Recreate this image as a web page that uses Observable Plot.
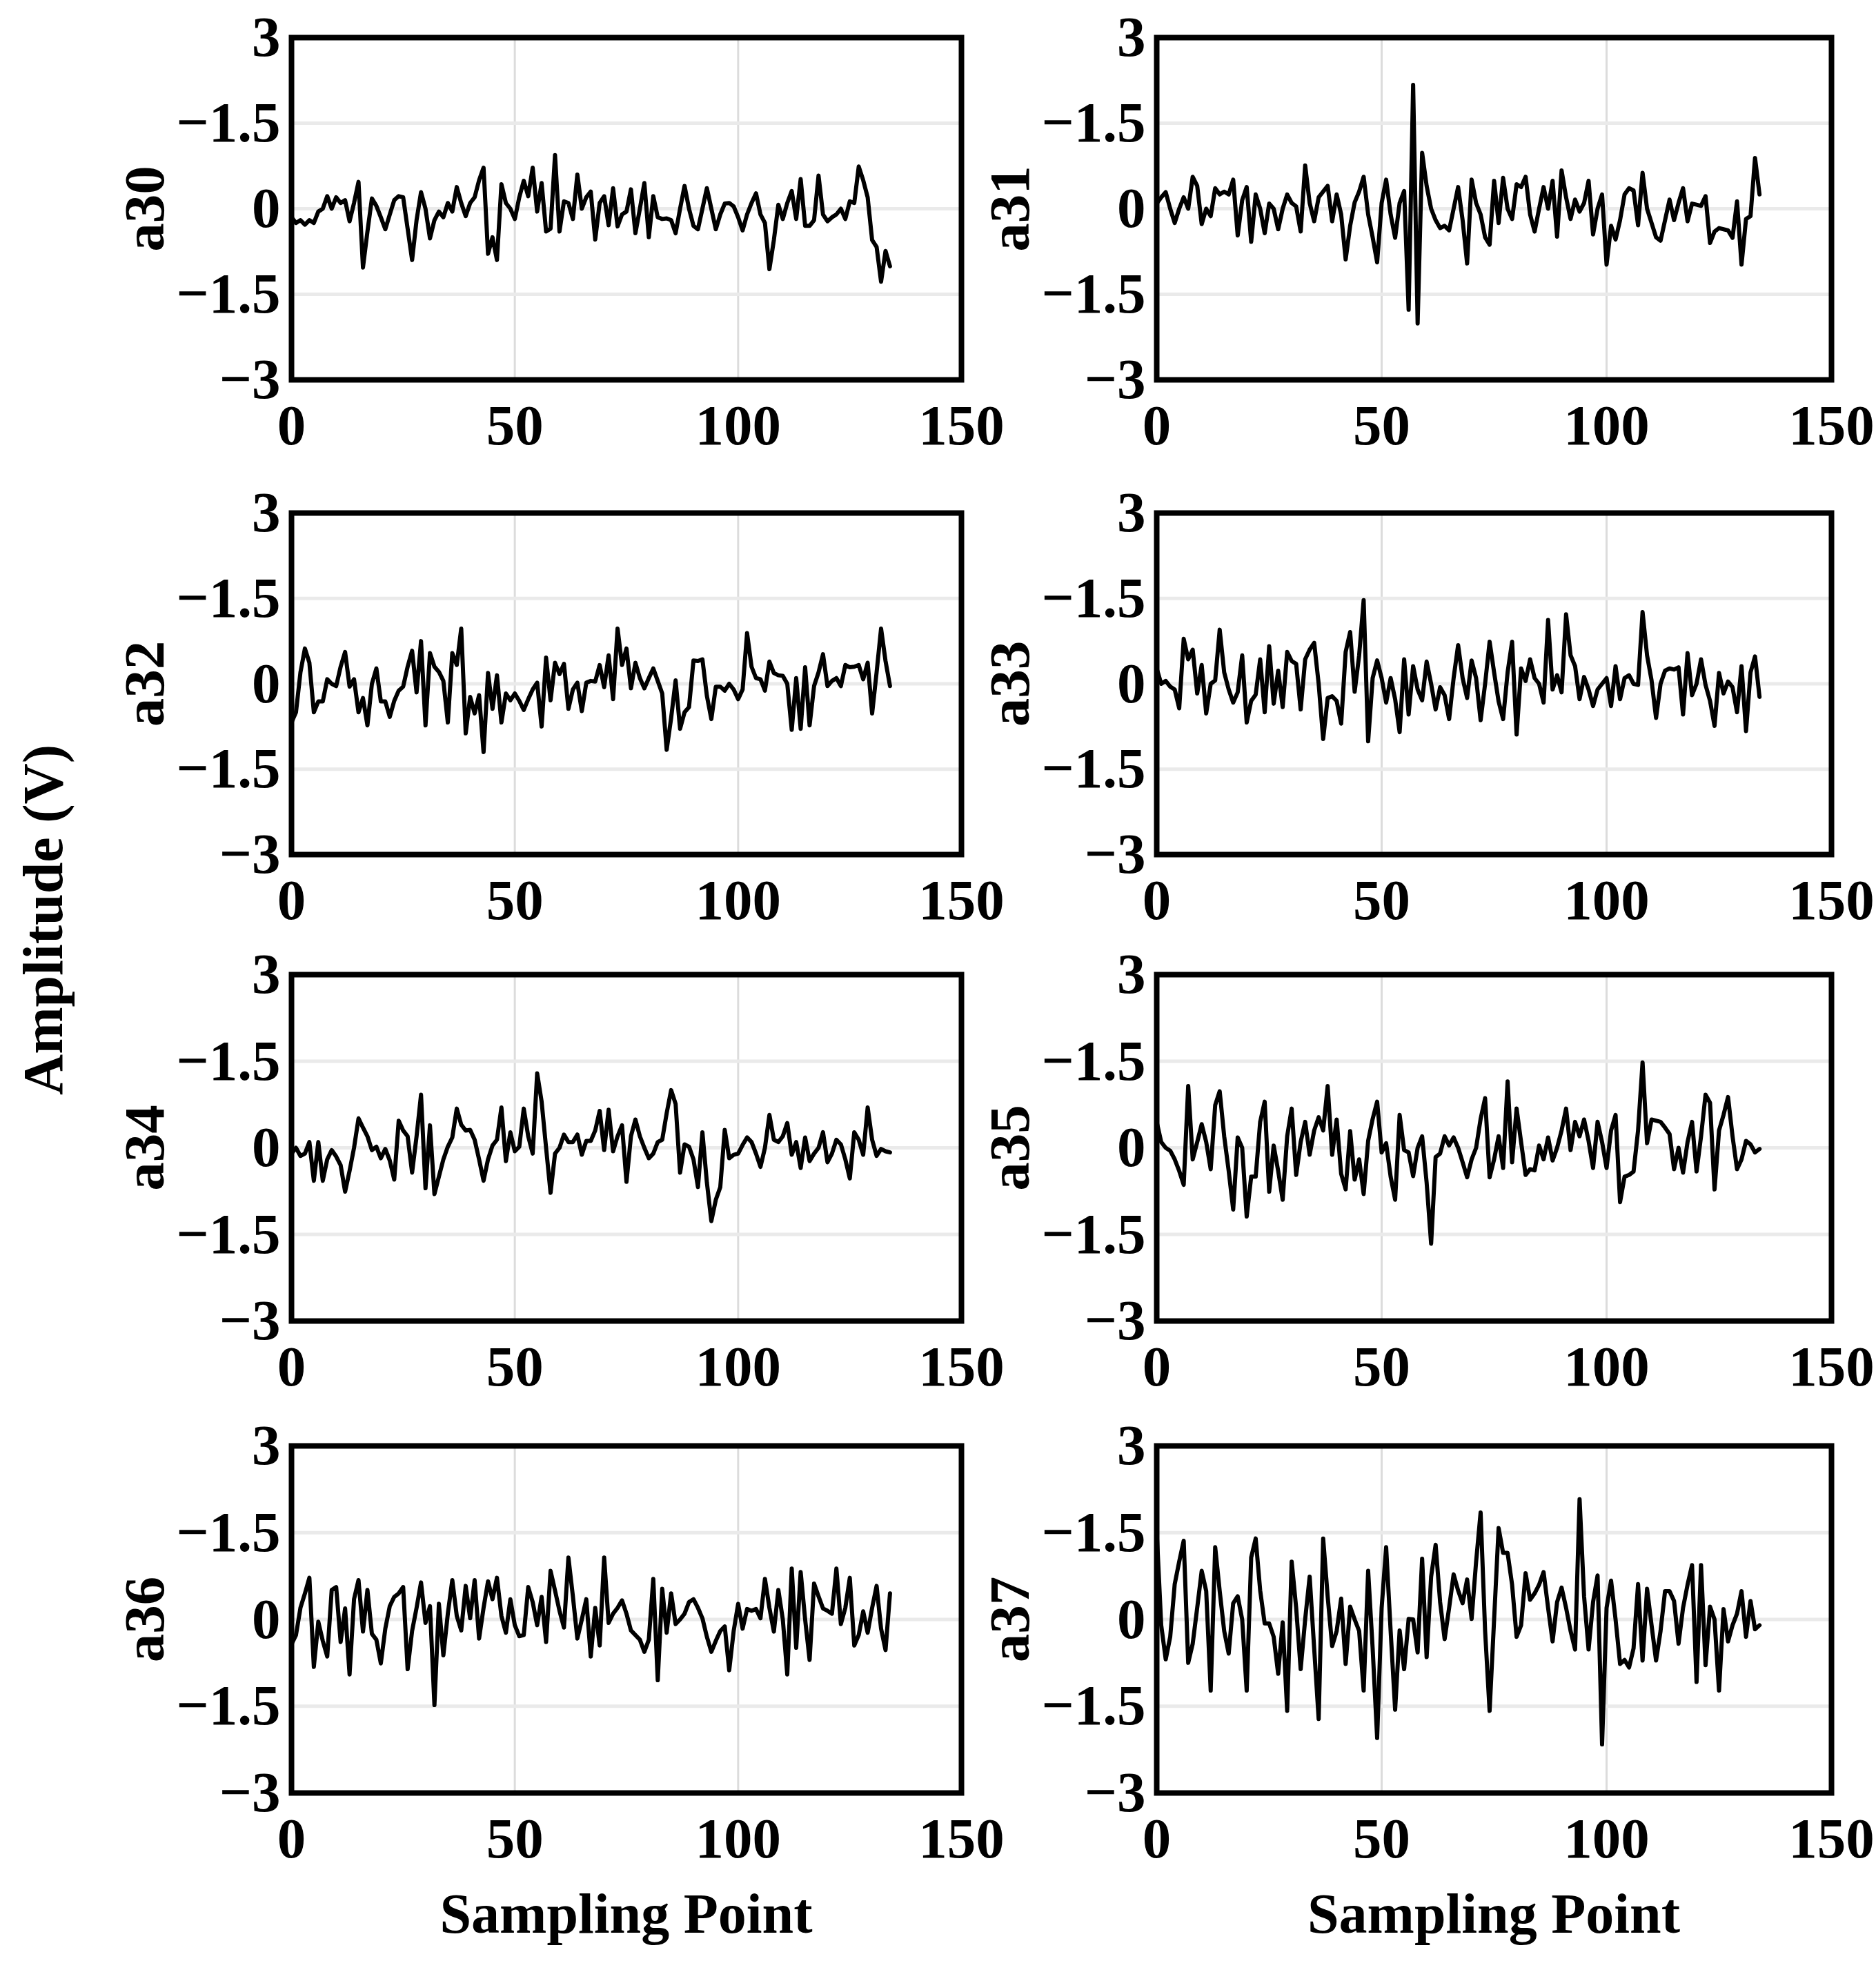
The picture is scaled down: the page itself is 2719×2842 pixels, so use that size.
<!DOCTYPE html>
<html><head><meta charset="utf-8">
<script src="https://cdn.jsdelivr.net/npm/d3@7"></script>
<script src="https://cdn.jsdelivr.net/npm/@observablehq/plot@0.6"></script>
<style>
body{margin:0;background:#fff;}
#root{position:relative;width:2719px;height:2842px;background:#fff;font-family:'Liberation Serif','Times New Roman',serif;font-weight:bold;overflow:hidden;}
.cell{position:absolute;}
.title{position:absolute;font-size:82px;font-weight:bold;white-space:nowrap;color:#000;line-height:1;}
</style></head><body><div id="root"></div>
<script>
const panelNames = ["a30","a31","a32","a33","a34","a35","a36","a37"];

const a30 = [-0.15,-0.25,-0.2,-0.28,-0.2,-0.25,-0.05,0.0,0.22,0.0,0.2,0.1,0.15,-0.22,0.1,0.47,-1.03,-0.4,0.18,0.05,
-0.15,-0.36,-0.1,0.15,0.22,0.2,-0.35,-0.9,-0.2,0.29,0.0,-0.52,-0.2,-0.05,-0.15,0.1,-0.05,0.38,0.1,-0.13,
0.1,0.2,0.5,0.72,-0.79,-0.5,-0.9,0.43,0.1,0.0,-0.18,0.2,0.49,0.22,0.72,-0.05,0.45,-0.4,-0.35,0.94,
-0.4,0.13,0.1,-0.18,0.6,0.0,0.2,0.3,-0.54,0.1,0.22,-0.29,0.36,-0.31,-0.1,-0.05,0.34,-0.43,0.0,0.45,
-0.5,0.22,-0.15,-0.18,-0.17,-0.2,-0.43,0.0,0.4,0.0,-0.3,-0.36,0.0,0.36,0.0,-0.36,-0.1,0.09,0.1,0.04,
-0.15,-0.38,-0.1,0.1,0.27,-0.1,-0.25,-1.06,-0.55,0.07,-0.18,0.1,0.31,-0.18,0.52,-0.3,-0.3,-0.2,0.58,-0.1,
-0.22,-0.15,-0.1,0.0,-0.18,0.13,0.1,0.74,0.5,0.2,-0.55,-0.67,-1.28,-0.74,-1.01];

const a31 = [0.09,0.2,0.29,0.0,-0.25,0.0,0.2,0.0,0.56,0.4,-0.27,0.0,-0.13,0.36,0.25,0.3,0.25,0.51,-0.47,0.15,
0.38,-0.58,0.25,0.0,-0.43,0.09,0.0,-0.36,0.0,0.25,0.1,0.04,-0.4,0.76,0.1,-0.22,0.2,0.3,0.4,-0.22,
0.25,-0.1,-0.89,-0.3,0.11,0.3,0.56,-0.1,-0.5,-0.94,0.1,0.51,-0.1,-0.51,0.1,0.31,-1.77,2.17,-2.01,0.98,
0.4,0.0,-0.2,-0.34,-0.3,-0.38,0.0,0.38,-0.2,-0.96,0.51,0.1,-0.1,-0.5,-0.63,0.49,-0.25,0.54,0.0,-0.18,
0.43,0.38,0.56,-0.1,-0.4,0.0,0.38,0.0,0.49,-0.49,0.67,0.2,-0.18,0.16,-0.05,0.1,0.49,-0.45,0.0,0.25,
-0.98,-0.3,-0.54,-0.2,0.25,0.36,0.32,-0.29,0.63,0.0,-0.25,-0.5,-0.56,-0.2,0.16,-0.2,0.1,0.36,-0.22,0.09,
0.07,0.05,0.22,-0.6,-0.4,-0.34,-0.36,-0.38,-0.51,0.13,-0.98,-0.18,-0.13,0.89,0.25];

const a32 = [-0.68,-0.5,0.2,0.62,0.37,-0.5,-0.31,-0.31,0.08,0.0,-0.04,0.3,0.56,-0.05,0.08,-0.5,-0.25,-0.73,0.0,0.27,
-0.31,-0.31,-0.58,-0.3,-0.12,-0.05,0.3,0.58,-0.15,0.75,-0.73,0.54,0.3,0.21,0.05,-0.68,0.54,0.33,0.97,-0.87,
-0.23,-0.52,-0.2,-1.2,0.19,-0.44,0.15,-0.68,-0.17,-0.29,-0.17,-0.3,-0.46,-0.27,-0.1,0.02,-0.75,0.46,-0.29,0.37,
0.17,0.35,-0.44,-0.1,0.02,-0.48,0.02,0.05,0.04,0.33,-0.06,0.5,-0.27,0.97,0.33,0.62,-0.08,0.37,0.1,-0.08,
0.1,0.27,0.05,-0.17,-1.16,-0.6,0.06,-0.79,-0.5,-0.41,0.41,0.4,0.43,-0.21,-0.62,-0.05,-0.05,-0.12,0.0,-0.1,
-0.27,-0.1,0.89,0.3,0.1,0.08,-0.12,0.39,0.19,0.15,0.14,0.0,-0.81,0.1,-0.79,0.29,-0.73,-0.04,0.2,0.52,
-0.04,0.05,0.1,-0.04,0.33,0.29,0.3,0.33,0.08,0.37,-0.52,0.2,0.97,0.4,-0.04];

const a33 = [0.27,0.0,0.05,-0.05,-0.1,-0.43,0.79,0.43,0.6,-0.17,0.33,-0.52,0.0,0.06,0.95,0.2,-0.1,-0.33,-0.15,0.5,
-0.68,-0.3,-0.19,0.43,-0.5,0.66,-0.35,0.23,-0.41,0.56,0.4,0.35,-0.45,0.43,0.6,0.72,0.0,-0.97,-0.25,-0.22,
-0.3,-0.7,0.56,0.91,-0.14,0.5,1.47,-1.01,0.1,0.41,0.1,-0.33,0.1,-0.27,-0.85,0.43,-0.54,0.31,-0.1,-0.29,
0.39,0.0,-0.45,-0.06,-0.2,-0.62,0.1,0.68,0.1,-0.25,0.41,0.1,-0.64,0.0,0.74,0.2,-0.31,-0.62,0.2,0.74,
-0.89,0.27,0.05,0.43,0.1,0.0,-0.33,1.12,-0.1,0.15,-0.15,1.22,0.5,0.31,-0.27,0.12,-0.1,-0.39,-0.1,0.0,
0.1,-0.39,0.31,-0.27,0.1,0.15,0.0,-0.02,1.26,0.5,0.06,-0.6,0.0,0.23,0.27,0.25,0.29,-0.54,0.54,-0.2,
0.0,0.43,-0.02,-0.3,-0.74,0.19,-0.17,0.04,-0.06,-0.5,0.31,-0.83,0.2,0.48,-0.23];

const a34 = [-0.1,0.0,-0.14,-0.1,0.1,-0.57,0.1,-0.57,-0.2,-0.04,-0.15,-0.3,-0.76,-0.4,0.0,0.51,0.35,0.2,-0.04,0.02,
-0.18,-0.02,-0.22,-0.55,0.47,0.3,0.2,-0.43,0.2,0.92,-0.7,0.39,-0.8,-0.5,-0.2,0.02,0.18,0.68,0.4,0.3,
0.31,0.14,-0.2,-0.57,-0.2,0.04,0.14,0.7,-0.23,0.27,-0.06,0.02,0.68,0.2,-0.1,1.29,0.8,0.0,-0.78,-0.1,
0.0,0.23,0.1,0.1,0.23,-0.12,0.12,0.12,0.3,0.64,-0.04,0.66,-0.06,0.2,0.39,-0.59,0.2,0.49,0.2,0.0,
-0.18,-0.1,0.1,0.14,0.6,1.0,0.76,-0.43,0.06,0.02,-0.2,-0.68,0.27,-0.6,-1.27,-0.9,-0.68,0.31,-0.18,-0.12,
-0.1,0.05,0.18,0.1,-0.1,-0.33,0.0,0.57,0.14,0.1,0.2,0.43,-0.12,0.1,-0.35,0.18,-0.23,-0.1,0.0,0.27,
-0.25,-0.1,0.14,0.06,-0.2,-0.53,0.27,0.14,-0.12,0.7,0.14,-0.14,-0.02,-0.06,-0.08];

const a35 = [0.45,0.1,0.0,-0.05,-0.2,-0.4,-0.64,1.07,-0.2,0.1,0.41,0.1,-0.37,0.74,0.98,0.2,-0.4,-1.07,0.18,0.0,
-1.19,-0.5,-0.5,0.45,0.8,-0.76,0.04,-0.4,-0.9,0.2,0.68,-0.47,0.1,0.45,-0.12,0.3,0.53,0.3,1.07,-0.12,
0.49,-0.45,-0.72,0.29,-0.55,-0.2,-0.8,0.12,0.5,0.8,-0.08,0.08,-0.5,-0.9,0.57,-0.04,-0.08,-0.49,0.0,0.2,
-0.6,-1.66,-0.16,-0.1,0.2,0.04,0.18,0.0,-0.25,-0.51,-0.2,0.0,0.5,0.86,-0.51,-0.2,0.2,-0.35,1.15,-0.25,
0.68,0.1,-0.47,-0.37,-0.39,0.04,-0.2,0.18,-0.22,0.0,0.3,0.68,-0.04,0.45,0.2,0.49,0.12,-0.35,0.45,0.1,
-0.35,0.3,0.57,-0.94,-0.5,-0.47,-0.41,0.3,1.48,0.08,0.49,0.47,0.45,0.35,0.24,-0.37,0.0,-0.43,0.1,0.45,
-0.41,0.2,0.92,0.78,-0.72,0.3,0.57,0.88,0.2,-0.37,-0.2,0.12,0.06,-0.08,-0.02];

const a36 = [-0.43,-0.27,0.2,0.45,0.72,-0.82,-0.04,-0.37,-0.64,0.51,0.56,-0.39,0.19,-0.95,0.35,0.68,-0.21,0.51,-0.25,-0.35,
-0.76,-0.16,0.23,0.39,0.45,0.56,-0.86,-0.2,0.2,0.64,-0.06,0.23,-1.48,0.27,-0.62,0.1,0.68,0.06,-0.19,0.58,
0.02,0.68,-0.33,0.2,0.66,0.35,0.72,0.06,-0.23,0.35,-0.1,-0.29,-0.27,0.56,0.3,-0.1,0.39,-0.39,0.84,0.5,
0.15,-0.14,1.07,0.4,-0.33,0.0,0.35,-0.64,0.2,-0.45,1.07,-0.06,0.1,0.2,0.33,0.1,-0.19,-0.27,-0.35,-0.56,
-0.35,0.7,-1.05,0.53,-0.23,0.45,-0.08,0.0,0.1,0.3,0.35,0.2,0.02,-0.3,-0.56,-0.37,-0.2,-0.12,-0.88,-0.2,
0.27,-0.16,0.18,0.15,0.18,0.02,0.7,0.2,-0.21,0.51,0.0,-0.95,0.88,-0.49,0.82,0.0,-0.7,0.62,0.4,0.19,
0.15,0.1,0.88,-0.08,0.2,0.72,-0.45,-0.27,0.14,-0.23,0.2,0.58,-0.16,-0.53,0.45];

const a37 = [1.52,-0.1,-0.69,-0.3,0.61,1.0,1.36,-0.75,-0.42,0.2,0.84,0.49,-1.23,1.25,0.49,-0.2,-0.59,0.28,0.4,0.0,
-1.23,1.07,1.4,0.5,-0.07,-0.07,-0.3,-0.94,-0.05,-1.58,1.0,0.2,-0.86,0.0,0.74,-0.5,-1.72,1.4,0.4,-0.46,
-0.2,0.36,-0.77,0.22,0.0,-0.2,-1.23,0.84,-0.5,-2.05,0.2,1.25,-0.2,-1.56,-0.19,-0.86,0.01,0.0,-0.57,1.05,
-0.65,0.74,1.29,0.3,-0.34,0.2,0.78,0.5,0.28,0.69,0.01,1.0,1.85,-0.2,-1.58,0.0,1.58,1.15,1.15,0.6,
-0.3,-0.1,0.8,0.34,0.45,0.6,0.82,0.2,-0.38,0.3,0.55,0.2,-0.2,-0.52,2.08,0.4,-0.52,0.3,0.76,-2.16,
0.2,0.67,0.0,-0.77,-0.7,-0.83,-0.5,0.61,-0.71,0.53,-0.1,-0.71,-0.2,0.49,0.49,0.32,-0.42,0.2,0.6,0.94,
-1.08,0.94,-0.79,0.22,0.0,-1.23,0.18,-0.38,-0.1,0.1,0.49,-0.3,0.32,-0.17,-0.1];

const seriesList = [a30, a31, a32, a33, a34, a35, a36, a37];

const xTicks = [0, 50, 100, 150];
const xTickLabels = ["0", "50", "100", "150"];
const yTicks = [3, 1.5, 0, -1.5, -3];
const yTickLabels = ["3", "−1.5", "0", "−1.5", "−3"];
const xGrid = [50, 100];
const yGrid = [1.5, 0, -1.5];
const xAxisTitle = "Sampling Point";
const yAxisTitle = "Amplitude (V)";

// layout (pixels)
const colFrameLeft = [422, 1676];
const colFrameWidth = [971, 978];
const rowFrameTop = [54, 743, 1412, 2095];
const rowFrameHeight = [496, 495, 502, 503];
const ML = 300, MR = 70, MT = 45, MB = 120;
const FONT = "'Liberation Serif','Times New Roman',serif";
const FS = 83;

const root = document.getElementById("root");

seriesList.forEach((vals, k) => {
  const col = k % 2, row = Math.floor(k / 2);
  const fw = colFrameWidth[col], fh = rowFrameHeight[row];
  const chart = Plot.plot({
    width: ML + fw + MR,
    height: MT + fh + MB,
    marginLeft: ML, marginRight: MR, marginTop: MT, marginBottom: MB,
    style: `max-width:none;background:transparent;font-family:${FONT};font-size:${FS}px;font-weight:bold;overflow:visible;color:#000;`,
    x: {domain: [0, 150]},
    y: {domain: [-3, 3]},
    marks: [
      Plot.ruleX(xGrid, {stroke: "#dcdcdc", strokeWidth: 3}),
      Plot.ruleY(yGrid, {stroke: "#eaeaea", strokeWidth: 5}),
      Plot.lineY(vals, {x: (d, i) => i, y: d => d, stroke: "#000", strokeWidth: 6, strokeLinejoin: "round"}),
      Plot.frame({stroke: "#000", strokeWidth: 8}),
      Plot.axisX({ticks: xTicks, tickFormat: d => xTickLabels[xTicks.indexOf(d)], tickSize: 0, tickPadding: 35, label: null, fontSize: FS, fontWeight: "bold"}),
      Plot.axisY({ticks: yTicks, tickFormat: d => yTickLabels[yTicks.indexOf(d)], tickSize: 0, tickPadding: 16, label: null, fontSize: FS, fontWeight: "bold"}),
      Plot.text([panelNames[k]], {text: d => d, frameAnchor: "left", textAnchor: "middle", dx: -212, rotate: -90, fontSize: FS, fontWeight: "bold", fontFamily: FONT, fill: "#000"})
    ]
  });
  const cell = document.createElement("div");
  cell.className = "cell";
  cell.style.left = (colFrameLeft[col] - ML) + "px";
  cell.style.top = (rowFrameTop[row] - MT) + "px";
  cell.appendChild(chart);
  root.appendChild(cell);
});

function addTitle(text, cx, cy, rotate) {
  const d = document.createElement("div");
  d.className = "title";
  d.textContent = text;
  d.style.left = cx + "px";
  d.style.top = cy + "px";
  d.style.transform = `translate(-50%,-50%)` + (rotate ? ` rotate(${rotate}deg)` : "");
  root.appendChild(d);
}
addTitle(yAxisTitle, 63, 1333, -90);
addTitle(xAxisTitle, colFrameLeft[0] + colFrameWidth[0] / 2, 2774, 0);
addTitle(xAxisTitle, colFrameLeft[1] + colFrameWidth[1] / 2, 2774, 0);
</script>
</body></html>
